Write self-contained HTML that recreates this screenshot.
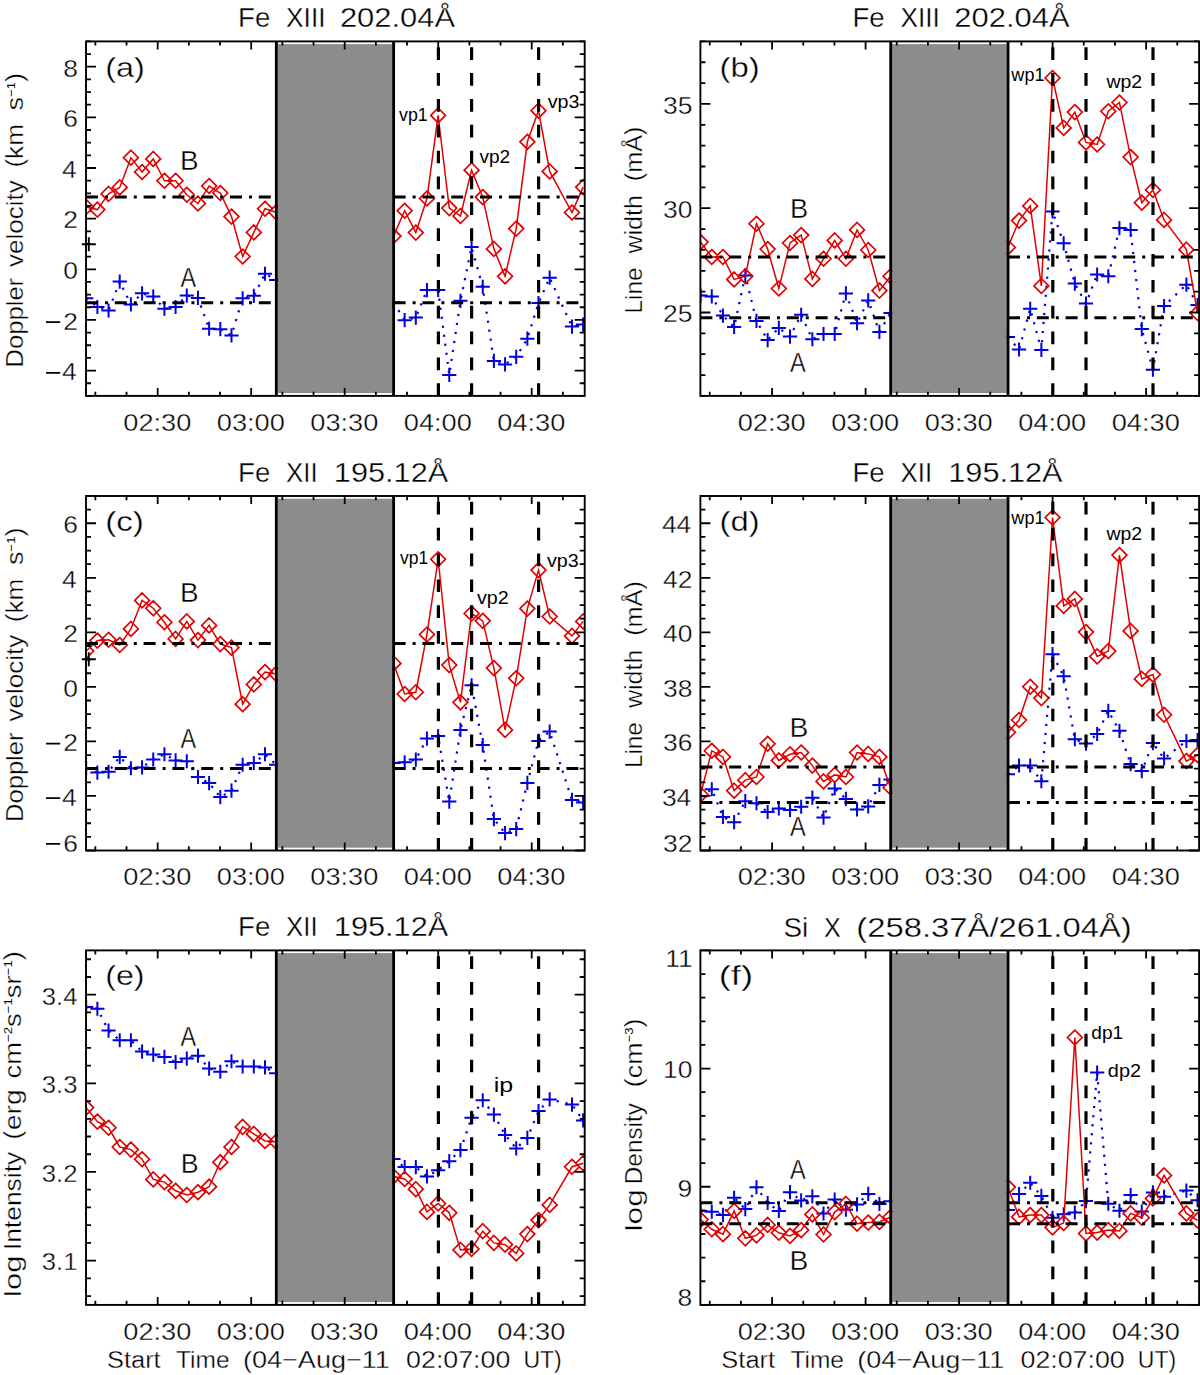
<!DOCTYPE html><html><head><meta charset="utf-8"><style>html,body{margin:0;padding:0;background:#fff;overflow:hidden}svg{display:block}text{fill:#000}text.e{stroke:#fff;stroke-width:0.35px}</style></head><body><svg width="1200" height="1375" viewBox="0 0 1200 1375" font-family="Liberation Sans, sans-serif">
<rect width="1200" height="1375" fill="#fff"/>
<defs>
<clipPath id="cpa"><rect x="86" y="41.4" width="498.7" height="354.5"/></clipPath>
<clipPath id="cpb"><rect x="700.4" y="41.4" width="498.7" height="354.5"/></clipPath>
<clipPath id="cpc"><rect x="86" y="496" width="498.7" height="354.5"/></clipPath>
<clipPath id="cpd"><rect x="700.4" y="496" width="498.7" height="354.5"/></clipPath>
<clipPath id="cpe"><rect x="86" y="950.4" width="498.7" height="354.5"/></clipPath>
<clipPath id="cpf"><rect x="700.4" y="950.4" width="498.7" height="354.5"/></clipPath>
</defs>
<g clip-path="url(#cpa)">
<path d="M86.2 298.25 L97.38 307 L108.55 310.5 L119.73 281.6 L130.9 304.4 L142.07 293.35 L153.25 296.5 L164.43 308.75 L175.6 307 L186.78 295.6 L197.95 297.9 L209.12 328.75 L220.3 329.2 L231.48 335.4 L242.65 298.3 L253.82 295.8 L265 273.75 L276.18 280" fill="none" stroke="#0000e0" stroke-width="2.2" stroke-dasharray="2.2 6.9"/>
<path d="M79.1 298.25H93.3M86.2 291.15V305.35M90.28 307H104.47M97.38 299.9V314.1M101.45 310.5H115.65M108.55 303.4V317.6M112.63 281.6H126.83M119.73 274.5V288.7M123.8 304.4H138M130.9 297.3V311.5M134.97 293.35H149.17M142.07 286.25V300.45M146.15 296.5H160.35M153.25 289.4V303.6M157.33 308.75H171.53M164.43 301.65V315.85M168.5 307H182.7M175.6 299.9V314.1M179.68 295.6H193.88M186.78 288.5V302.7M190.85 297.9H205.05M197.95 290.8V305M202.03 328.75H216.22M209.12 321.65V335.85M213.2 329.2H227.4M220.3 322.1V336.3M224.38 335.4H238.58M231.48 328.3V342.5M235.55 298.3H249.75M242.65 291.2V305.4M246.72 295.8H260.93M253.82 288.7V302.9M257.9 273.75H272.1M265 266.65V280.85M269.07 280H283.28M276.18 272.9V287.1" fill="none" stroke="#0000e0" stroke-width="2"/>
<path d="M86.2 207 L97.38 209.6 L108.55 193.9 L119.73 187.4 L130.9 157.65 L142.07 172 L153.25 158.9 L164.43 180.75 L175.6 180.75 L186.78 194.75 L197.95 203.5 L209.12 186 L220.3 193 L231.48 216.6 L242.65 256.5 L253.82 232.4 L265 208.75 L276.18 212.25" fill="none" stroke="#e00000" stroke-width="1.5"/>
<path d="M86.2 199.6L93.6 207L86.2 214.4L78.8 207ZM97.38 202.2L104.78 209.6L97.38 217L89.97 209.6ZM108.55 186.5L115.95 193.9L108.55 201.3L101.15 193.9ZM119.73 180L127.13 187.4L119.73 194.8L112.33 187.4ZM130.9 150.25L138.3 157.65L130.9 165.05L123.5 157.65ZM142.07 164.6L149.47 172L142.07 179.4L134.67 172ZM153.25 151.5L160.65 158.9L153.25 166.3L145.85 158.9ZM164.43 173.35L171.83 180.75L164.43 188.15L157.03 180.75ZM175.6 173.35L183 180.75L175.6 188.15L168.2 180.75ZM186.78 187.35L194.18 194.75L186.78 202.15L179.38 194.75ZM197.95 196.1L205.35 203.5L197.95 210.9L190.55 203.5ZM209.12 178.6L216.53 186L209.12 193.4L201.72 186ZM220.3 185.6L227.7 193L220.3 200.4L212.9 193ZM231.48 209.2L238.88 216.6L231.48 224L224.08 216.6ZM242.65 249.1L250.05 256.5L242.65 263.9L235.25 256.5ZM253.82 225L261.22 232.4L253.82 239.8L246.42 232.4ZM265 201.35L272.4 208.75L265 216.15L257.6 208.75ZM276.18 204.85L283.57 212.25L276.18 219.65L268.78 212.25Z" fill="none" stroke="#e00000" stroke-width="1.7"/>
<path d="M393.5 302.5 L404.65 320.2 L415.81 317.6 L426.96 290.1 L438.12 290 L449.27 374.9 L460.43 300.85 L471.58 247.1 L482.74 286.85 L493.89 360.9 L505.05 364.4 L516.21 356.85 L527.36 338.65 L538.51 303.1 L549.67 277.7 L571.98 326.6 L583.13 324.6" fill="none" stroke="#0000e0" stroke-width="2.2" stroke-dasharray="2.2 6.9"/>
<path d="M386.4 302.5H400.6M393.5 295.4V309.6M397.55 320.2H411.75M404.65 313.1V327.3M408.71 317.6H422.91M415.81 310.5V324.7M419.86 290.1H434.06M426.96 283V297.2M431.02 290H445.22M438.12 282.9V297.1M442.17 374.9H456.38M449.27 367.8V382M453.33 300.85H467.53M460.43 293.75V307.95M464.48 247.1H478.69M471.58 240V254.2M475.64 286.85H489.84M482.74 279.75V293.95M486.79 360.9H501M493.89 353.8V368M497.95 364.4H512.15M505.05 357.3V371.5M509.11 356.85H523.31M516.21 349.75V363.95M520.26 338.65H534.46M527.36 331.55V345.75M531.41 303.1H545.62M538.51 296V310.2M542.57 277.7H556.77M549.67 270.6V284.8M564.88 326.6H579.08M571.98 319.5V333.7M576.03 324.6H590.24M583.13 317.5V331.7" fill="none" stroke="#0000e0" stroke-width="2"/>
<path d="M393.5 236.1 L404.65 210.75 L415.81 232.6 L426.96 198.5 L438.12 115.4 L449.27 208.1 L460.43 216 L471.58 170.15 L482.74 197.1 L493.89 248.9 L505.05 276.35 L516.21 228.6 L527.36 141.8 L538.51 110.65 L549.67 171.4 L571.98 212.5 L583.13 187.1" fill="none" stroke="#e00000" stroke-width="1.5"/>
<path d="M393.5 228.7L400.9 236.1L393.5 243.5L386.1 236.1ZM404.65 203.35L412.05 210.75L404.65 218.15L397.25 210.75ZM415.81 225.2L423.21 232.6L415.81 240L408.41 232.6ZM426.96 191.1L434.36 198.5L426.96 205.9L419.56 198.5ZM438.12 108L445.52 115.4L438.12 122.8L430.72 115.4ZM449.27 200.7L456.67 208.1L449.27 215.5L441.88 208.1ZM460.43 208.6L467.83 216L460.43 223.4L453.03 216ZM471.58 162.75L478.98 170.15L471.58 177.55L464.19 170.15ZM482.74 189.7L490.14 197.1L482.74 204.5L475.34 197.1ZM493.89 241.5L501.29 248.9L493.89 256.3L486.5 248.9ZM505.05 268.95L512.45 276.35L505.05 283.75L497.65 276.35ZM516.21 221.2L523.61 228.6L516.21 236L508.81 228.6ZM527.36 134.4L534.76 141.8L527.36 149.2L519.96 141.8ZM538.51 103.25L545.91 110.65L538.51 118.05L531.12 110.65ZM549.67 164L557.07 171.4L549.67 178.8L542.27 171.4ZM571.98 205.1L579.38 212.5L571.98 219.9L564.58 212.5ZM583.13 179.7L590.53 187.1L583.13 194.5L575.74 187.1Z" fill="none" stroke="#e00000" stroke-width="1.7"/>
<line x1="86" y1="197" x2="276.35" y2="197" stroke="#000" stroke-width="3" stroke-dasharray="12 7 3 6.8"/>
<line x1="393.6" y1="197" x2="584.7" y2="197" stroke="#000" stroke-width="3" stroke-dasharray="12 7 3 6.8"/>
<line x1="86" y1="302.8" x2="276.35" y2="302.8" stroke="#000" stroke-width="3" stroke-dasharray="12 7 3 6.8"/>
<line x1="393.6" y1="302.8" x2="584.7" y2="302.8" stroke="#000" stroke-width="3" stroke-dasharray="12 7 3 6.8"/>
<line x1="438.4" y1="41.4" x2="438.4" y2="395.9" stroke="#000" stroke-width="3.2" stroke-dasharray="12.7 13.15" stroke-dashoffset="20"/>
<line x1="471.6" y1="41.4" x2="471.6" y2="395.9" stroke="#000" stroke-width="3.2" stroke-dasharray="12.7 13.15" stroke-dashoffset="20"/>
<line x1="538.6" y1="41.4" x2="538.6" y2="395.9" stroke="#000" stroke-width="3.2" stroke-dasharray="12.7 13.15" stroke-dashoffset="20"/>
<rect x="277.8" y="44.1" width="114.4" height="349" fill="#8c8c8c"/>
<line x1="276.35" y1="41.4" x2="276.35" y2="395.9" stroke="#000" stroke-width="2.9"/>
<line x1="393.6" y1="41.4" x2="393.6" y2="395.9" stroke="#000" stroke-width="2.9"/>
</g>
<rect x="86" y="41.4" width="498.7" height="354.5" fill="none" stroke="#000" stroke-width="1.9"/>
<path d="M95.35 395.9V391.7M95.35 41.4V45.6M126.52 395.9V391.7M126.52 41.4V45.6M157.69 395.9V387.9M157.69 41.4V49.4M188.86 395.9V391.7M188.86 41.4V45.6M220.03 395.9V391.7M220.03 41.4V45.6M251.19 395.9V387.9M251.19 41.4V49.4M282.36 395.9V391.7M282.36 41.4V45.6M313.53 395.9V391.7M313.53 41.4V45.6M344.7 395.9V387.9M344.7 41.4V49.4M375.87 395.9V391.7M375.87 41.4V45.6M407.04 395.9V391.7M407.04 41.4V45.6M438.21 395.9V387.9M438.21 41.4V49.4M469.38 395.9V391.7M469.38 41.4V45.6M500.54 395.9V391.7M500.54 41.4V45.6M531.71 395.9V387.9M531.71 41.4V49.4M562.88 395.9V391.7M562.88 41.4V45.6M86 395.9H91M584.7 395.9H579.7M86 383.24H91M584.7 383.24H579.7M86 370.58H96M584.7 370.58H574.7M86 357.92H91M584.7 357.92H579.7M86 345.26H91M584.7 345.26H579.7M86 332.6H91M584.7 332.6H579.7M86 319.94H96M584.7 319.94H574.7M86 307.27H91M584.7 307.27H579.7M86 294.61H91M584.7 294.61H579.7M86 281.95H91M584.7 281.95H579.7M86 269.29H96M584.7 269.29H574.7M86 256.63H91M584.7 256.63H579.7M86 243.97H91M584.7 243.97H579.7M86 231.31H91M584.7 231.31H579.7M86 218.65H96M584.7 218.65H574.7M86 205.99H91M584.7 205.99H579.7M86 193.33H91M584.7 193.33H579.7M86 180.67H91M584.7 180.67H579.7M86 168.01H96M584.7 168.01H574.7M86 155.35H91M584.7 155.35H579.7M86 142.69H91M584.7 142.69H579.7M86 130.02H91M584.7 130.02H579.7M86 117.36H96M584.7 117.36H574.7M86 104.7H91M584.7 104.7H579.7M86 92.04H91M584.7 92.04H579.7M86 79.38H91M584.7 79.38H579.7M86 66.72H96M584.7 66.72H574.7M86 54.06H91M584.7 54.06H579.7M86 41.4H91M584.7 41.4H579.7" fill="none" stroke="#000" stroke-width="1.8"/>
<g clip-path="url(#cpb)">
<path d="M700.6 295.5 L711.77 296.4 L722.95 315.6 L734.12 327 L745.3 275.4 L756.47 320.9 L767.65 340.1 L778.83 327.9 L790 336.6 L801.17 314.75 L812.35 339.25 L823.52 334 L834.7 334 L845.88 293.4 L857.05 323.15 L868.22 300.4 L879.4 331.9 L890.58 313" fill="none" stroke="#0000e0" stroke-width="2.2" stroke-dasharray="2.2 6.9"/>
<path d="M693.5 295.5H707.7M700.6 288.4V302.6M704.67 296.4H718.88M711.77 289.3V303.5M715.85 315.6H730.05M722.95 308.5V322.7M727.02 327H741.23M734.12 319.9V334.1M738.2 275.4H752.4M745.3 268.3V282.5M749.37 320.9H763.57M756.47 313.8V328M760.55 340.1H774.75M767.65 333V347.2M771.73 327.9H785.93M778.83 320.8V335M782.9 336.6H797.1M790 329.5V343.7M794.07 314.75H808.27M801.17 307.65V321.85M805.25 339.25H819.45M812.35 332.15V346.35M816.42 334H830.62M823.52 326.9V341.1M827.6 334H841.8M834.7 326.9V341.1M838.77 293.4H852.98M845.88 286.3V300.5M849.95 323.15H864.15M857.05 316.05V330.25M861.12 300.4H875.32M868.22 293.3V307.5M872.3 331.9H886.5M879.4 324.8V339M883.48 313H897.68M890.58 305.9V320.1" fill="none" stroke="#0000e0" stroke-width="2"/>
<path d="M700.6 242.1 L711.77 257 L722.95 257 L734.12 279.4 L745.3 276.25 L756.47 223.75 L767.65 249.1 L778.83 288.5 L790 243 L801.17 235.1 L812.35 278.9 L823.52 258.75 L834.7 240.4 L845.88 258.75 L857.05 229.9 L868.22 250 L879.4 290.6 L890.58 276.25" fill="none" stroke="#e00000" stroke-width="1.5"/>
<path d="M700.6 234.7L708 242.1L700.6 249.5L693.2 242.1ZM711.77 249.6L719.17 257L711.77 264.4L704.38 257ZM722.95 249.6L730.35 257L722.95 264.4L715.55 257ZM734.12 272L741.52 279.4L734.12 286.8L726.73 279.4ZM745.3 268.85L752.7 276.25L745.3 283.65L737.9 276.25ZM756.47 216.35L763.87 223.75L756.47 231.15L749.07 223.75ZM767.65 241.7L775.05 249.1L767.65 256.5L760.25 249.1ZM778.83 281.1L786.23 288.5L778.83 295.9L771.43 288.5ZM790 235.6L797.4 243L790 250.4L782.6 243ZM801.17 227.7L808.57 235.1L801.17 242.5L793.77 235.1ZM812.35 271.5L819.75 278.9L812.35 286.3L804.95 278.9ZM823.52 251.35L830.92 258.75L823.52 266.15L816.12 258.75ZM834.7 233L842.1 240.4L834.7 247.8L827.3 240.4ZM845.88 251.35L853.27 258.75L845.88 266.15L838.48 258.75ZM857.05 222.5L864.45 229.9L857.05 237.3L849.65 229.9ZM868.22 242.6L875.62 250L868.22 257.4L860.82 250ZM879.4 283.2L886.8 290.6L879.4 298L872 290.6ZM890.58 268.85L897.98 276.25L890.58 283.65L883.18 276.25Z" fill="none" stroke="#e00000" stroke-width="1.7"/>
<path d="M1007.9 337 L1019.05 349.5 L1030.21 308.8 L1041.37 349.9 L1052.52 211.5 L1063.67 243.35 L1074.83 283.6 L1085.98 303.6 L1097.14 274.5 L1108.3 276.25 L1119.45 228.1 L1130.61 229.9 L1141.76 329.1 L1152.91 369.7 L1164.07 306 L1186.38 284.65 L1197.53 305" fill="none" stroke="#0000e0" stroke-width="2.2" stroke-dasharray="2.2 6.9"/>
<path d="M1000.8 337H1015M1007.9 329.9V344.1M1011.95 349.5H1026.15M1019.05 342.4V356.6M1023.11 308.8H1037.31M1030.21 301.7V315.9M1034.27 349.9H1048.46M1041.37 342.8V357M1045.42 211.5H1059.62M1052.52 204.4V218.6M1056.58 243.35H1070.77M1063.67 236.25V250.45M1067.73 283.6H1081.93M1074.83 276.5V290.7M1078.88 303.6H1093.08M1085.98 296.5V310.7M1090.04 274.5H1104.24M1097.14 267.4V281.6M1101.2 276.25H1115.39M1108.3 269.15V283.35M1112.35 228.1H1126.55M1119.45 221V235.2M1123.51 229.9H1137.7M1130.61 222.8V237M1134.66 329.1H1148.86M1141.76 322V336.2M1145.82 369.7H1160.01M1152.91 362.6V376.8M1156.97 306H1171.17M1164.07 298.9V313.1M1179.28 284.65H1193.48M1186.38 277.55V291.75M1190.43 305H1204.63M1197.53 297.9V312.1" fill="none" stroke="#0000e0" stroke-width="2"/>
<path d="M1007.9 247.4 L1019.05 220.6 L1030.21 205.9 L1041.37 285.9 L1052.52 78 L1063.67 127.9 L1074.83 112.1 L1085.98 142.4 L1097.14 144.5 L1108.3 111.25 L1119.45 102.5 L1130.61 157.1 L1141.76 202.7 L1152.91 190 L1164.07 219.9 L1186.38 249.65 L1197.53 313" fill="none" stroke="#e00000" stroke-width="1.5"/>
<path d="M1007.9 240L1015.3 247.4L1007.9 254.8L1000.5 247.4ZM1019.05 213.2L1026.45 220.6L1019.05 228L1011.65 220.6ZM1030.21 198.5L1037.61 205.9L1030.21 213.3L1022.81 205.9ZM1041.37 278.5L1048.77 285.9L1041.37 293.3L1033.96 285.9ZM1052.52 70.6L1059.92 78L1052.52 85.4L1045.12 78ZM1063.67 120.5L1071.08 127.9L1063.67 135.3L1056.27 127.9ZM1074.83 104.7L1082.23 112.1L1074.83 119.5L1067.43 112.1ZM1085.98 135L1093.38 142.4L1085.98 149.8L1078.58 142.4ZM1097.14 137.1L1104.54 144.5L1097.14 151.9L1089.74 144.5ZM1108.3 103.85L1115.7 111.25L1108.3 118.65L1100.89 111.25ZM1119.45 95.1L1126.85 102.5L1119.45 109.9L1112.05 102.5ZM1130.61 149.7L1138.01 157.1L1130.61 164.5L1123.2 157.1ZM1141.76 195.3L1149.16 202.7L1141.76 210.1L1134.36 202.7ZM1152.91 182.6L1160.32 190L1152.91 197.4L1145.51 190ZM1164.07 212.5L1171.47 219.9L1164.07 227.3L1156.67 219.9ZM1186.38 242.25L1193.78 249.65L1186.38 257.05L1178.98 249.65ZM1197.53 305.6L1204.93 313L1197.53 320.4L1190.13 313Z" fill="none" stroke="#e00000" stroke-width="1.7"/>
<line x1="700.4" y1="257" x2="890.75" y2="257" stroke="#000" stroke-width="3" stroke-dasharray="12 7 3 6.8"/>
<line x1="1008" y1="257" x2="1199.1" y2="257" stroke="#000" stroke-width="3" stroke-dasharray="12 7 3 6.8"/>
<line x1="700.4" y1="317.8" x2="890.75" y2="317.8" stroke="#000" stroke-width="3" stroke-dasharray="12 7 3 6.8"/>
<line x1="1008" y1="317.8" x2="1199.1" y2="317.8" stroke="#000" stroke-width="3" stroke-dasharray="12 7 3 6.8"/>
<line x1="1052.8" y1="41.4" x2="1052.8" y2="395.9" stroke="#000" stroke-width="3.2" stroke-dasharray="12.7 13.15" stroke-dashoffset="20"/>
<line x1="1086" y1="41.4" x2="1086" y2="395.9" stroke="#000" stroke-width="3.2" stroke-dasharray="12.7 13.15" stroke-dashoffset="20"/>
<line x1="1153" y1="41.4" x2="1153" y2="395.9" stroke="#000" stroke-width="3.2" stroke-dasharray="12.7 13.15" stroke-dashoffset="20"/>
<rect x="892.2" y="44.1" width="114.4" height="349" fill="#8c8c8c"/>
<line x1="890.75" y1="41.4" x2="890.75" y2="395.9" stroke="#000" stroke-width="2.9"/>
<line x1="1008" y1="41.4" x2="1008" y2="395.9" stroke="#000" stroke-width="2.9"/>
</g>
<rect x="700.4" y="41.4" width="498.7" height="354.5" fill="none" stroke="#000" stroke-width="1.9"/>
<path d="M709.75 395.9V391.7M709.75 41.4V45.6M740.92 395.9V391.7M740.92 41.4V45.6M772.09 395.9V387.9M772.09 41.4V49.4M803.26 395.9V391.7M803.26 41.4V45.6M834.43 395.9V391.7M834.43 41.4V45.6M865.59 395.9V387.9M865.59 41.4V49.4M896.76 395.9V391.7M896.76 41.4V45.6M927.93 395.9V391.7M927.93 41.4V45.6M959.1 395.9V387.9M959.1 41.4V49.4M990.27 395.9V391.7M990.27 41.4V45.6M1021.44 395.9V391.7M1021.44 41.4V45.6M1052.61 395.9V387.9M1052.61 41.4V49.4M1083.78 395.9V391.7M1083.78 41.4V45.6M1114.94 395.9V391.7M1114.94 41.4V45.6M1146.11 395.9V387.9M1146.11 41.4V49.4M1177.28 395.9V391.7M1177.28 41.4V45.6M700.4 395.9H705.4M1199.1 395.9H1194.1M700.4 375.05H705.4M1199.1 375.05H1194.1M700.4 354.19H705.4M1199.1 354.19H1194.1M700.4 333.34H705.4M1199.1 333.34H1194.1M700.4 312.49H710.4M1199.1 312.49H1189.1M700.4 291.64H705.4M1199.1 291.64H1194.1M700.4 270.78H705.4M1199.1 270.78H1194.1M700.4 249.93H705.4M1199.1 249.93H1194.1M700.4 229.08H705.4M1199.1 229.08H1194.1M700.4 208.22H710.4M1199.1 208.22H1189.1M700.4 187.37H705.4M1199.1 187.37H1194.1M700.4 166.52H705.4M1199.1 166.52H1194.1M700.4 145.66H705.4M1199.1 145.66H1194.1M700.4 124.81H705.4M1199.1 124.81H1194.1M700.4 103.96H710.4M1199.1 103.96H1189.1M700.4 83.11H705.4M1199.1 83.11H1194.1M700.4 62.25H705.4M1199.1 62.25H1194.1M700.4 41.4H705.4M1199.1 41.4H1194.1" fill="none" stroke="#000" stroke-width="1.8"/>
<g clip-path="url(#cpc)">
<path d="M86.2 768.25 L97.38 772.6 L108.55 771.75 L119.73 756.9 L130.9 768.25 L142.07 767.4 L153.25 759.5 L164.43 754.25 L175.6 760.4 L186.78 761.25 L197.95 777 L209.12 783.1 L220.3 797.1 L231.48 790.65 L242.65 764.75 L253.82 763 L265 754.25 L276.18 764.75" fill="none" stroke="#0000e0" stroke-width="2.2" stroke-dasharray="2.2 6.9"/>
<path d="M79.1 768.25H93.3M86.2 761.15V775.35M90.28 772.6H104.47M97.38 765.5V779.7M101.45 771.75H115.65M108.55 764.65V778.85M112.63 756.9H126.83M119.73 749.8V764M123.8 768.25H138M130.9 761.15V775.35M134.97 767.4H149.17M142.07 760.3V774.5M146.15 759.5H160.35M153.25 752.4V766.6M157.33 754.25H171.53M164.43 747.15V761.35M168.5 760.4H182.7M175.6 753.3V767.5M179.68 761.25H193.88M186.78 754.15V768.35M190.85 777H205.05M197.95 769.9V784.1M202.03 783.1H216.22M209.12 776V790.2M213.2 797.1H227.4M220.3 790V804.2M224.38 790.65H238.58M231.48 783.55V797.75M235.55 764.75H249.75M242.65 757.65V771.85M246.72 763H260.93M253.82 755.9V770.1M257.9 754.25H272.1M265 747.15V761.35M269.07 764.75H283.28M276.18 757.65V771.85" fill="none" stroke="#0000e0" stroke-width="2"/>
<path d="M86.2 651 L97.38 640.6 L108.55 639.75 L119.73 645 L130.9 628.9 L142.07 600.4 L153.25 608.25 L164.43 622.25 L175.6 638.9 L186.78 621.4 L197.95 640.1 L209.12 625.4 L220.3 644.1 L231.48 647.6 L242.65 704.15 L253.82 684.4 L265 672.1 L276.18 673.9" fill="none" stroke="#e00000" stroke-width="1.5"/>
<path d="M86.2 643.6L93.6 651L86.2 658.4L78.8 651ZM97.38 633.2L104.78 640.6L97.38 648L89.97 640.6ZM108.55 632.35L115.95 639.75L108.55 647.15L101.15 639.75ZM119.73 637.6L127.13 645L119.73 652.4L112.33 645ZM130.9 621.5L138.3 628.9L130.9 636.3L123.5 628.9ZM142.07 593L149.47 600.4L142.07 607.8L134.67 600.4ZM153.25 600.85L160.65 608.25L153.25 615.65L145.85 608.25ZM164.43 614.85L171.83 622.25L164.43 629.65L157.03 622.25ZM175.6 631.5L183 638.9L175.6 646.3L168.2 638.9ZM186.78 614L194.18 621.4L186.78 628.8L179.38 621.4ZM197.95 632.7L205.35 640.1L197.95 647.5L190.55 640.1ZM209.12 618L216.53 625.4L209.12 632.8L201.72 625.4ZM220.3 636.7L227.7 644.1L220.3 651.5L212.9 644.1ZM231.48 640.2L238.88 647.6L231.48 655L224.08 647.6ZM242.65 696.75L250.05 704.15L242.65 711.55L235.25 704.15ZM253.82 677L261.22 684.4L253.82 691.8L246.42 684.4ZM265 664.7L272.4 672.1L265 679.5L257.6 672.1ZM276.18 666.5L283.57 673.9L276.18 681.3L268.78 673.9Z" fill="none" stroke="#e00000" stroke-width="1.7"/>
<path d="M393.5 763 L404.65 762.25 L415.81 759.6 L426.96 738.6 L438.12 736 L449.27 801.6 L460.43 729.9 L471.58 685.25 L482.74 745.1 L493.89 819.1 L505.05 833.1 L516.21 829.1 L527.36 782.9 L538.51 740.9 L549.67 731.6 L571.98 799.9 L583.13 802.5" fill="none" stroke="#0000e0" stroke-width="2.2" stroke-dasharray="2.2 6.9"/>
<path d="M386.4 763H400.6M393.5 755.9V770.1M397.55 762.25H411.75M404.65 755.15V769.35M408.71 759.6H422.91M415.81 752.5V766.7M419.86 738.6H434.06M426.96 731.5V745.7M431.02 736H445.22M438.12 728.9V743.1M442.17 801.6H456.38M449.27 794.5V808.7M453.33 729.9H467.53M460.43 722.8V737M464.48 685.25H478.69M471.58 678.15V692.35M475.64 745.1H489.84M482.74 738V752.2M486.79 819.1H501M493.89 812V826.2M497.95 833.1H512.15M505.05 826V840.2M509.11 829.1H523.31M516.21 822V836.2M520.26 782.9H534.46M527.36 775.8V790M531.41 740.9H545.62M538.51 733.8V748M542.57 731.6H556.77M549.67 724.5V738.7M564.88 799.9H579.08M571.98 792.8V807M576.03 802.5H590.24M583.13 795.4V809.6" fill="none" stroke="#0000e0" stroke-width="2"/>
<path d="M393.5 663.4 L404.65 694 L415.81 692.25 L426.96 634.5 L438.12 559.25 L449.27 665.1 L460.43 702.3 L471.58 613.5 L482.74 620.85 L493.89 668.1 L505.05 729.9 L516.21 678.25 L527.36 608.6 L538.51 570.1 L549.67 616.5 L571.98 635.9 L583.13 621.4" fill="none" stroke="#e00000" stroke-width="1.5"/>
<path d="M393.5 656L400.9 663.4L393.5 670.8L386.1 663.4ZM404.65 686.6L412.05 694L404.65 701.4L397.25 694ZM415.81 684.85L423.21 692.25L415.81 699.65L408.41 692.25ZM426.96 627.1L434.36 634.5L426.96 641.9L419.56 634.5ZM438.12 551.85L445.52 559.25L438.12 566.65L430.72 559.25ZM449.27 657.7L456.67 665.1L449.27 672.5L441.88 665.1ZM460.43 694.9L467.83 702.3L460.43 709.7L453.03 702.3ZM471.58 606.1L478.98 613.5L471.58 620.9L464.19 613.5ZM482.74 613.45L490.14 620.85L482.74 628.25L475.34 620.85ZM493.89 660.7L501.29 668.1L493.89 675.5L486.5 668.1ZM505.05 722.5L512.45 729.9L505.05 737.3L497.65 729.9ZM516.21 670.85L523.61 678.25L516.21 685.65L508.81 678.25ZM527.36 601.2L534.76 608.6L527.36 616L519.96 608.6ZM538.51 562.7L545.91 570.1L538.51 577.5L531.12 570.1ZM549.67 609.1L557.07 616.5L549.67 623.9L542.27 616.5ZM571.98 628.5L579.38 635.9L571.98 643.3L564.58 635.9ZM583.13 614L590.53 621.4L583.13 628.8L575.74 621.4Z" fill="none" stroke="#e00000" stroke-width="1.7"/>
<line x1="86" y1="643.6" x2="276.35" y2="643.6" stroke="#000" stroke-width="3" stroke-dasharray="12 7 3 6.8"/>
<line x1="393.6" y1="643.6" x2="584.7" y2="643.6" stroke="#000" stroke-width="3" stroke-dasharray="12 7 3 6.8"/>
<line x1="86" y1="768.5" x2="276.35" y2="768.5" stroke="#000" stroke-width="3" stroke-dasharray="12 7 3 6.8"/>
<line x1="393.6" y1="768.5" x2="584.7" y2="768.5" stroke="#000" stroke-width="3" stroke-dasharray="12 7 3 6.8"/>
<line x1="438.4" y1="496" x2="438.4" y2="850.5" stroke="#000" stroke-width="3.2" stroke-dasharray="12.7 13.15" stroke-dashoffset="20"/>
<line x1="471.6" y1="496" x2="471.6" y2="850.5" stroke="#000" stroke-width="3.2" stroke-dasharray="12.7 13.15" stroke-dashoffset="20"/>
<line x1="538.6" y1="496" x2="538.6" y2="850.5" stroke="#000" stroke-width="3.2" stroke-dasharray="12.7 13.15" stroke-dashoffset="20"/>
<rect x="277.8" y="498.7" width="114.4" height="349" fill="#8c8c8c"/>
<line x1="276.35" y1="496" x2="276.35" y2="850.5" stroke="#000" stroke-width="2.9"/>
<line x1="393.6" y1="496" x2="393.6" y2="850.5" stroke="#000" stroke-width="2.9"/>
</g>
<rect x="86" y="496" width="498.7" height="354.5" fill="none" stroke="#000" stroke-width="1.9"/>
<path d="M95.35 850.5V846.3M95.35 496V500.2M126.52 850.5V846.3M126.52 496V500.2M157.69 850.5V842.5M157.69 496V504M188.86 850.5V846.3M188.86 496V500.2M220.03 850.5V846.3M220.03 496V500.2M251.19 850.5V842.5M251.19 496V504M282.36 850.5V846.3M282.36 496V500.2M313.53 850.5V846.3M313.53 496V500.2M344.7 850.5V842.5M344.7 496V504M375.87 850.5V846.3M375.87 496V500.2M407.04 850.5V846.3M407.04 496V500.2M438.21 850.5V842.5M438.21 496V504M469.38 850.5V846.3M469.38 496V500.2M500.54 850.5V846.3M500.54 496V500.2M531.71 850.5V842.5M531.71 496V504M562.88 850.5V846.3M562.88 496V500.2M86 850.5H96M584.7 850.5H574.7M86 836.87H91M584.7 836.87H579.7M86 823.23H91M584.7 823.23H579.7M86 809.6H91M584.7 809.6H579.7M86 795.96H96M584.7 795.96H574.7M86 782.33H91M584.7 782.33H579.7M86 768.69H91M584.7 768.69H579.7M86 755.06H91M584.7 755.06H579.7M86 741.42H96M584.7 741.42H574.7M86 727.79H91M584.7 727.79H579.7M86 714.15H91M584.7 714.15H579.7M86 700.52H91M584.7 700.52H579.7M86 686.88H96M584.7 686.88H574.7M86 673.25H91M584.7 673.25H579.7M86 659.62H91M584.7 659.62H579.7M86 645.98H91M584.7 645.98H579.7M86 632.35H96M584.7 632.35H574.7M86 618.71H91M584.7 618.71H579.7M86 605.08H91M584.7 605.08H579.7M86 591.44H91M584.7 591.44H579.7M86 577.81H96M584.7 577.81H574.7M86 564.17H91M584.7 564.17H579.7M86 550.54H91M584.7 550.54H579.7M86 536.9H91M584.7 536.9H579.7M86 523.27H96M584.7 523.27H574.7M86 509.63H91M584.7 509.63H579.7M86 496H91M584.7 496H579.7" fill="none" stroke="#000" stroke-width="1.8"/>
<g clip-path="url(#cpd)">
<path d="M700.6 796.25 L711.77 789.25 L722.95 816.9 L734.12 822.15 L745.3 801.15 L756.47 803.25 L767.65 812 L778.83 808.5 L790 809.9 L801.17 806.75 L812.35 797.65 L823.52 817.6 L834.7 788.4 L845.88 798.9 L857.05 809.4 L868.22 806.4 L879.4 784.9 L890.58 779.6" fill="none" stroke="#0000e0" stroke-width="2.2" stroke-dasharray="2.2 6.9"/>
<path d="M693.5 796.25H707.7M700.6 789.15V803.35M704.67 789.25H718.88M711.77 782.15V796.35M715.85 816.9H730.05M722.95 809.8V824M727.02 822.15H741.23M734.12 815.05V829.25M738.2 801.15H752.4M745.3 794.05V808.25M749.37 803.25H763.57M756.47 796.15V810.35M760.55 812H774.75M767.65 804.9V819.1M771.73 808.5H785.93M778.83 801.4V815.6M782.9 809.9H797.1M790 802.8V817M794.07 806.75H808.27M801.17 799.65V813.85M805.25 797.65H819.45M812.35 790.55V804.75M816.42 817.6H830.62M823.52 810.5V824.7M827.6 788.4H841.8M834.7 781.3V795.5M838.77 798.9H852.98M845.88 791.8V806M849.95 809.4H864.15M857.05 802.3V816.5M861.12 806.4H875.32M868.22 799.3V813.5M872.3 784.9H886.5M879.4 777.8V792M883.48 779.6H897.68M890.58 772.5V786.7" fill="none" stroke="#0000e0" stroke-width="2"/>
<path d="M700.6 794.5 L711.77 750.75 L722.95 756.9 L734.12 790.65 L745.3 780.15 L756.47 777 L767.65 743.75 L778.83 760.4 L790 754.25 L801.17 752.5 L812.35 765.6 L823.52 781.4 L834.7 774.9 L845.88 777 L857.05 752.5 L868.22 753.9 L879.4 756.9 L890.58 787.5" fill="none" stroke="#e00000" stroke-width="1.5"/>
<path d="M700.6 787.1L708 794.5L700.6 801.9L693.2 794.5ZM711.77 743.35L719.17 750.75L711.77 758.15L704.38 750.75ZM722.95 749.5L730.35 756.9L722.95 764.3L715.55 756.9ZM734.12 783.25L741.52 790.65L734.12 798.05L726.73 790.65ZM745.3 772.75L752.7 780.15L745.3 787.55L737.9 780.15ZM756.47 769.6L763.87 777L756.47 784.4L749.07 777ZM767.65 736.35L775.05 743.75L767.65 751.15L760.25 743.75ZM778.83 753L786.23 760.4L778.83 767.8L771.43 760.4ZM790 746.85L797.4 754.25L790 761.65L782.6 754.25ZM801.17 745.1L808.57 752.5L801.17 759.9L793.77 752.5ZM812.35 758.2L819.75 765.6L812.35 773L804.95 765.6ZM823.52 774L830.92 781.4L823.52 788.8L816.12 781.4ZM834.7 767.5L842.1 774.9L834.7 782.3L827.3 774.9ZM845.88 769.6L853.27 777L845.88 784.4L838.48 777ZM857.05 745.1L864.45 752.5L857.05 759.9L849.65 752.5ZM868.22 746.5L875.62 753.9L868.22 761.3L860.82 753.9ZM879.4 749.5L886.8 756.9L879.4 764.3L872 756.9ZM890.58 780.1L897.98 787.5L890.58 794.9L883.18 787.5Z" fill="none" stroke="#e00000" stroke-width="1.7"/>
<path d="M1007.9 774.25 L1019.05 765.5 L1030.21 765.5 L1041.37 781.25 L1052.52 654.2 L1063.67 676.25 L1074.83 739.25 L1085.98 743.6 L1097.14 734 L1108.3 710.9 L1119.45 730.85 L1130.61 764.1 L1141.76 771.1 L1152.91 743.1 L1164.07 758.5 L1186.38 741 L1197.53 740.1" fill="none" stroke="#0000e0" stroke-width="2.2" stroke-dasharray="2.2 6.9"/>
<path d="M1000.8 774.25H1015M1007.9 767.15V781.35M1011.95 765.5H1026.15M1019.05 758.4V772.6M1023.11 765.5H1037.31M1030.21 758.4V772.6M1034.27 781.25H1048.46M1041.37 774.15V788.35M1045.42 654.2H1059.62M1052.52 647.1V661.3M1056.58 676.25H1070.77M1063.67 669.15V683.35M1067.73 739.25H1081.93M1074.83 732.15V746.35M1078.88 743.6H1093.08M1085.98 736.5V750.7M1090.04 734H1104.24M1097.14 726.9V741.1M1101.2 710.9H1115.39M1108.3 703.8V718M1112.35 730.85H1126.55M1119.45 723.75V737.95M1123.51 764.1H1137.7M1130.61 757V771.2M1134.66 771.1H1148.86M1141.76 764V778.2M1145.82 743.1H1160.01M1152.91 736V750.2M1156.97 758.5H1171.17M1164.07 751.4V765.6M1179.28 741H1193.48M1186.38 733.9V748.1M1190.43 740.1H1204.63M1197.53 733V747.2" fill="none" stroke="#0000e0" stroke-width="2"/>
<path d="M1007.9 732.25 L1019.05 720 L1030.21 686.75 L1041.37 698.1 L1052.52 517.5 L1063.67 605.9 L1074.83 598.9 L1085.98 632.1 L1097.14 656.4 L1108.3 651.1 L1119.45 555.1 L1130.61 630.9 L1141.76 678.9 L1152.91 674.5 L1164.07 714.75 L1186.38 761.1 L1197.53 755" fill="none" stroke="#e00000" stroke-width="1.5"/>
<path d="M1007.9 724.85L1015.3 732.25L1007.9 739.65L1000.5 732.25ZM1019.05 712.6L1026.45 720L1019.05 727.4L1011.65 720ZM1030.21 679.35L1037.61 686.75L1030.21 694.15L1022.81 686.75ZM1041.37 690.7L1048.77 698.1L1041.37 705.5L1033.96 698.1ZM1052.52 510.1L1059.92 517.5L1052.52 524.9L1045.12 517.5ZM1063.67 598.5L1071.08 605.9L1063.67 613.3L1056.27 605.9ZM1074.83 591.5L1082.23 598.9L1074.83 606.3L1067.43 598.9ZM1085.98 624.7L1093.38 632.1L1085.98 639.5L1078.58 632.1ZM1097.14 649L1104.54 656.4L1097.14 663.8L1089.74 656.4ZM1108.3 643.7L1115.7 651.1L1108.3 658.5L1100.89 651.1ZM1119.45 547.7L1126.85 555.1L1119.45 562.5L1112.05 555.1ZM1130.61 623.5L1138.01 630.9L1130.61 638.3L1123.2 630.9ZM1141.76 671.5L1149.16 678.9L1141.76 686.3L1134.36 678.9ZM1152.91 667.1L1160.32 674.5L1152.91 681.9L1145.51 674.5ZM1164.07 707.35L1171.47 714.75L1164.07 722.15L1156.67 714.75ZM1186.38 753.7L1193.78 761.1L1186.38 768.5L1178.98 761.1ZM1197.53 747.6L1204.93 755L1197.53 762.4L1190.13 755Z" fill="none" stroke="#e00000" stroke-width="1.7"/>
<line x1="700.4" y1="767" x2="890.75" y2="767" stroke="#000" stroke-width="3" stroke-dasharray="12 7 3 6.8"/>
<line x1="1008" y1="767" x2="1199.1" y2="767" stroke="#000" stroke-width="3" stroke-dasharray="12 7 3 6.8"/>
<line x1="700.4" y1="802.5" x2="890.75" y2="802.5" stroke="#000" stroke-width="3" stroke-dasharray="12 7 3 6.8"/>
<line x1="1008" y1="802.5" x2="1199.1" y2="802.5" stroke="#000" stroke-width="3" stroke-dasharray="12 7 3 6.8"/>
<line x1="1052.8" y1="496" x2="1052.8" y2="850.5" stroke="#000" stroke-width="3.2" stroke-dasharray="12.7 13.15" stroke-dashoffset="20"/>
<line x1="1086" y1="496" x2="1086" y2="850.5" stroke="#000" stroke-width="3.2" stroke-dasharray="12.7 13.15" stroke-dashoffset="20"/>
<line x1="1153" y1="496" x2="1153" y2="850.5" stroke="#000" stroke-width="3.2" stroke-dasharray="12.7 13.15" stroke-dashoffset="20"/>
<rect x="892.2" y="498.7" width="114.4" height="349" fill="#8c8c8c"/>
<line x1="890.75" y1="496" x2="890.75" y2="850.5" stroke="#000" stroke-width="2.9"/>
<line x1="1008" y1="496" x2="1008" y2="850.5" stroke="#000" stroke-width="2.9"/>
</g>
<rect x="700.4" y="496" width="498.7" height="354.5" fill="none" stroke="#000" stroke-width="1.9"/>
<path d="M709.75 850.5V846.3M709.75 496V500.2M740.92 850.5V846.3M740.92 496V500.2M772.09 850.5V842.5M772.09 496V504M803.26 850.5V846.3M803.26 496V500.2M834.43 850.5V846.3M834.43 496V500.2M865.59 850.5V842.5M865.59 496V504M896.76 850.5V846.3M896.76 496V500.2M927.93 850.5V846.3M927.93 496V500.2M959.1 850.5V842.5M959.1 496V504M990.27 850.5V846.3M990.27 496V500.2M1021.44 850.5V846.3M1021.44 496V500.2M1052.61 850.5V842.5M1052.61 496V504M1083.78 850.5V846.3M1083.78 496V500.2M1114.94 850.5V846.3M1114.94 496V500.2M1146.11 850.5V842.5M1146.11 496V504M1177.28 850.5V846.3M1177.28 496V500.2M700.4 850.5H710.4M1199.1 850.5H1189.1M700.4 836.87H705.4M1199.1 836.87H1194.1M700.4 823.23H705.4M1199.1 823.23H1194.1M700.4 809.6H705.4M1199.1 809.6H1194.1M700.4 795.96H710.4M1199.1 795.96H1189.1M700.4 782.33H705.4M1199.1 782.33H1194.1M700.4 768.69H705.4M1199.1 768.69H1194.1M700.4 755.06H705.4M1199.1 755.06H1194.1M700.4 741.42H710.4M1199.1 741.42H1189.1M700.4 727.79H705.4M1199.1 727.79H1194.1M700.4 714.15H705.4M1199.1 714.15H1194.1M700.4 700.52H705.4M1199.1 700.52H1194.1M700.4 686.88H710.4M1199.1 686.88H1189.1M700.4 673.25H705.4M1199.1 673.25H1194.1M700.4 659.62H705.4M1199.1 659.62H1194.1M700.4 645.98H705.4M1199.1 645.98H1194.1M700.4 632.35H710.4M1199.1 632.35H1189.1M700.4 618.71H705.4M1199.1 618.71H1194.1M700.4 605.08H705.4M1199.1 605.08H1194.1M700.4 591.44H705.4M1199.1 591.44H1194.1M700.4 577.81H710.4M1199.1 577.81H1189.1M700.4 564.17H705.4M1199.1 564.17H1194.1M700.4 550.54H705.4M1199.1 550.54H1194.1M700.4 536.9H705.4M1199.1 536.9H1194.1M700.4 523.27H710.4M1199.1 523.27H1189.1M700.4 509.63H705.4M1199.1 509.63H1194.1M700.4 496H705.4M1199.1 496H1194.1" fill="none" stroke="#000" stroke-width="1.8"/>
<g clip-path="url(#cpe)">
<path d="M86.2 1007 L97.38 1008.75 L108.55 1030.6 L119.73 1040.25 L130.9 1040.25 L142.07 1051.6 L153.25 1054.6 L164.43 1056.9 L175.6 1062.1 L186.78 1058.6 L197.95 1055.65 L209.12 1068.6 L220.3 1071.75 L231.48 1061.25 L242.65 1066.5 L253.82 1066.5 L265 1067.4 L276.18 1073.15" fill="none" stroke="#0000e0" stroke-width="2.2" stroke-dasharray="2.2 6.9"/>
<path d="M79.1 1007H93.3M86.2 999.9V1014.1M90.28 1008.75H104.47M97.38 1001.65V1015.85M101.45 1030.6H115.65M108.55 1023.5V1037.7M112.63 1040.25H126.83M119.73 1033.15V1047.35M123.8 1040.25H138M130.9 1033.15V1047.35M134.97 1051.6H149.17M142.07 1044.5V1058.7M146.15 1054.6H160.35M153.25 1047.5V1061.7M157.33 1056.9H171.53M164.43 1049.8V1064M168.5 1062.1H182.7M175.6 1055V1069.2M179.68 1058.6H193.88M186.78 1051.5V1065.7M190.85 1055.65H205.05M197.95 1048.55V1062.75M202.03 1068.6H216.22M209.12 1061.5V1075.7M213.2 1071.75H227.4M220.3 1064.65V1078.85M224.38 1061.25H238.58M231.48 1054.15V1068.35M235.55 1066.5H249.75M242.65 1059.4V1073.6M246.72 1066.5H260.93M253.82 1059.4V1073.6M257.9 1067.4H272.1M265 1060.3V1074.5M269.07 1073.15H283.28M276.18 1066.05V1080.25" fill="none" stroke="#0000e0" stroke-width="2"/>
<path d="M86.2 1107.6 L97.38 1121.6 L108.55 1127.75 L119.73 1147 L130.9 1149.6 L142.07 1159.25 L153.25 1179.4 L164.43 1182.1 L175.6 1190.8 L186.78 1195 L197.95 1192.2 L209.12 1186.7 L220.3 1162.2 L231.48 1147 L242.65 1126.9 L253.82 1133.9 L265 1140.9 L276.18 1141.75" fill="none" stroke="#e00000" stroke-width="1.5"/>
<path d="M86.2 1100.2L93.6 1107.6L86.2 1115L78.8 1107.6ZM97.38 1114.2L104.78 1121.6L97.38 1129L89.97 1121.6ZM108.55 1120.35L115.95 1127.75L108.55 1135.15L101.15 1127.75ZM119.73 1139.6L127.13 1147L119.73 1154.4L112.33 1147ZM130.9 1142.2L138.3 1149.6L130.9 1157L123.5 1149.6ZM142.07 1151.85L149.47 1159.25L142.07 1166.65L134.67 1159.25ZM153.25 1172L160.65 1179.4L153.25 1186.8L145.85 1179.4ZM164.43 1174.7L171.83 1182.1L164.43 1189.5L157.03 1182.1ZM175.6 1183.4L183 1190.8L175.6 1198.2L168.2 1190.8ZM186.78 1187.6L194.18 1195L186.78 1202.4L179.38 1195ZM197.95 1184.8L205.35 1192.2L197.95 1199.6L190.55 1192.2ZM209.12 1179.3L216.53 1186.7L209.12 1194.1L201.72 1186.7ZM220.3 1154.8L227.7 1162.2L220.3 1169.6L212.9 1162.2ZM231.48 1139.6L238.88 1147L231.48 1154.4L224.08 1147ZM242.65 1119.5L250.05 1126.9L242.65 1134.3L235.25 1126.9ZM253.82 1126.5L261.22 1133.9L253.82 1141.3L246.42 1133.9ZM265 1133.5L272.4 1140.9L265 1148.3L257.6 1140.9ZM276.18 1134.35L283.57 1141.75L276.18 1149.15L268.78 1141.75Z" fill="none" stroke="#e00000" stroke-width="1.7"/>
<path d="M393.5 1158.9 L404.65 1167.1 L415.81 1167.1 L426.96 1176.4 L438.12 1170.25 L449.27 1161.15 L460.43 1150.1 L471.58 1117.75 L482.74 1100.25 L493.89 1114.6 L505.05 1134.9 L516.21 1148.4 L527.36 1137.9 L538.51 1111.1 L549.67 1099.4 L571.98 1104.6 L583.13 1120.4" fill="none" stroke="#0000e0" stroke-width="2.2" stroke-dasharray="2.2 6.9"/>
<path d="M386.4 1158.9H400.6M393.5 1151.8V1166M397.55 1167.1H411.75M404.65 1160V1174.2M408.71 1167.1H422.91M415.81 1160V1174.2M419.86 1176.4H434.06M426.96 1169.3V1183.5M431.02 1170.25H445.22M438.12 1163.15V1177.35M442.17 1161.15H456.38M449.27 1154.05V1168.25M453.33 1150.1H467.53M460.43 1143V1157.2M464.48 1117.75H478.69M471.58 1110.65V1124.85M475.64 1100.25H489.84M482.74 1093.15V1107.35M486.79 1114.6H501M493.89 1107.5V1121.7M497.95 1134.9H512.15M505.05 1127.8V1142M509.11 1148.4H523.31M516.21 1141.3V1155.5M520.26 1137.9H534.46M527.36 1130.8V1145M531.41 1111.1H545.62M538.51 1104V1118.2M542.57 1099.4H556.77M549.67 1092.3V1106.5M564.88 1104.6H579.08M571.98 1097.5V1111.7M576.03 1120.4H590.24M583.13 1113.3V1127.5" fill="none" stroke="#0000e0" stroke-width="2"/>
<path d="M393.5 1176.4 L404.65 1179 L415.81 1189.15 L426.96 1211.9 L438.12 1203.5 L449.27 1212.8 L460.43 1249.9 L471.58 1249 L482.74 1231.15 L493.89 1242.9 L505.05 1244.6 L516.21 1253.4 L527.36 1234.1 L538.51 1220.1 L549.67 1204.9 L571.98 1166.75 L583.13 1163.25" fill="none" stroke="#e00000" stroke-width="1.5"/>
<path d="M393.5 1169L400.9 1176.4L393.5 1183.8L386.1 1176.4ZM404.65 1171.6L412.05 1179L404.65 1186.4L397.25 1179ZM415.81 1181.75L423.21 1189.15L415.81 1196.55L408.41 1189.15ZM426.96 1204.5L434.36 1211.9L426.96 1219.3L419.56 1211.9ZM438.12 1196.1L445.52 1203.5L438.12 1210.9L430.72 1203.5ZM449.27 1205.4L456.67 1212.8L449.27 1220.2L441.88 1212.8ZM460.43 1242.5L467.83 1249.9L460.43 1257.3L453.03 1249.9ZM471.58 1241.6L478.98 1249L471.58 1256.4L464.19 1249ZM482.74 1223.75L490.14 1231.15L482.74 1238.55L475.34 1231.15ZM493.89 1235.5L501.29 1242.9L493.89 1250.3L486.5 1242.9ZM505.05 1237.2L512.45 1244.6L505.05 1252L497.65 1244.6ZM516.21 1246L523.61 1253.4L516.21 1260.8L508.81 1253.4ZM527.36 1226.7L534.76 1234.1L527.36 1241.5L519.96 1234.1ZM538.51 1212.7L545.91 1220.1L538.51 1227.5L531.12 1220.1ZM549.67 1197.5L557.07 1204.9L549.67 1212.3L542.27 1204.9ZM571.98 1159.35L579.38 1166.75L571.98 1174.15L564.58 1166.75ZM583.13 1155.85L590.53 1163.25L583.13 1170.65L575.74 1163.25Z" fill="none" stroke="#e00000" stroke-width="1.7"/>
<line x1="438.4" y1="950.4" x2="438.4" y2="1304.9" stroke="#000" stroke-width="3.2" stroke-dasharray="12.7 13.15" stroke-dashoffset="20"/>
<line x1="471.6" y1="950.4" x2="471.6" y2="1304.9" stroke="#000" stroke-width="3.2" stroke-dasharray="12.7 13.15" stroke-dashoffset="20"/>
<line x1="538.6" y1="950.4" x2="538.6" y2="1304.9" stroke="#000" stroke-width="3.2" stroke-dasharray="12.7 13.15" stroke-dashoffset="20"/>
<rect x="277.8" y="953.1" width="114.4" height="349" fill="#8c8c8c"/>
<line x1="276.35" y1="950.4" x2="276.35" y2="1304.9" stroke="#000" stroke-width="2.9"/>
<line x1="393.6" y1="950.4" x2="393.6" y2="1304.9" stroke="#000" stroke-width="2.9"/>
</g>
<rect x="86" y="950.4" width="498.7" height="354.5" fill="none" stroke="#000" stroke-width="1.9"/>
<path d="M95.35 1304.9V1300.7M95.35 950.4V954.6M126.52 1304.9V1300.7M126.52 950.4V954.6M157.69 1304.9V1296.9M157.69 950.4V958.4M188.86 1304.9V1300.7M188.86 950.4V954.6M220.03 1304.9V1300.7M220.03 950.4V954.6M251.19 1304.9V1296.9M251.19 950.4V958.4M282.36 1304.9V1300.7M282.36 950.4V954.6M313.53 1304.9V1300.7M313.53 950.4V954.6M344.7 1304.9V1296.9M344.7 950.4V958.4M375.87 1304.9V1300.7M375.87 950.4V954.6M407.04 1304.9V1300.7M407.04 950.4V954.6M438.21 1304.9V1296.9M438.21 950.4V958.4M469.38 1304.9V1300.7M469.38 950.4V954.6M500.54 1304.9V1300.7M500.54 950.4V954.6M531.71 1304.9V1296.9M531.71 950.4V958.4M562.88 1304.9V1300.7M562.88 950.4V954.6M86 1296.04H91M584.7 1296.04H579.7M86 1278.31H91M584.7 1278.31H579.7M86 1260.59H96M584.7 1260.59H574.7M86 1242.86H91M584.7 1242.86H579.7M86 1225.14H91M584.7 1225.14H579.7M86 1207.41H91M584.7 1207.41H579.7M86 1189.69H91M584.7 1189.69H579.7M86 1171.96H96M584.7 1171.96H574.7M86 1154.24H91M584.7 1154.24H579.7M86 1136.51H91M584.7 1136.51H579.7M86 1118.79H91M584.7 1118.79H579.7M86 1101.06H91M584.7 1101.06H579.7M86 1083.34H96M584.7 1083.34H574.7M86 1065.61H91M584.7 1065.61H579.7M86 1047.89H91M584.7 1047.89H579.7M86 1030.16H91M584.7 1030.16H579.7M86 1012.44H91M584.7 1012.44H579.7M86 994.71H96M584.7 994.71H574.7M86 976.99H91M584.7 976.99H579.7M86 959.26H91M584.7 959.26H579.7" fill="none" stroke="#000" stroke-width="1.8"/>
<g clip-path="url(#cpf)">
<path d="M700.6 1210.9 L711.77 1211.75 L722.95 1214.9 L734.12 1197.75 L745.3 1209.1 L756.47 1187.25 L767.65 1203 L778.83 1210.9 L790 1192.15 L801.17 1200.4 L812.35 1196.35 L823.52 1213.5 L834.7 1199.5 L845.88 1209.65 L857.05 1204.4 L868.22 1193.9 L879.4 1203.9 L890.58 1201.25" fill="none" stroke="#0000e0" stroke-width="2.2" stroke-dasharray="2.2 6.9"/>
<path d="M693.5 1210.9H707.7M700.6 1203.8V1218M704.67 1211.75H718.88M711.77 1204.65V1218.85M715.85 1214.9H730.05M722.95 1207.8V1222M727.02 1197.75H741.23M734.12 1190.65V1204.85M738.2 1209.1H752.4M745.3 1202V1216.2M749.37 1187.25H763.57M756.47 1180.15V1194.35M760.55 1203H774.75M767.65 1195.9V1210.1M771.73 1210.9H785.93M778.83 1203.8V1218M782.9 1192.15H797.1M790 1185.05V1199.25M794.07 1200.4H808.27M801.17 1193.3V1207.5M805.25 1196.35H819.45M812.35 1189.25V1203.45M816.42 1213.5H830.62M823.52 1206.4V1220.6M827.6 1199.5H841.8M834.7 1192.4V1206.6M838.77 1209.65H852.98M845.88 1202.55V1216.75M849.95 1204.4H864.15M857.05 1197.3V1211.5M861.12 1193.9H875.32M868.22 1186.8V1201M872.3 1203.9H886.5M879.4 1196.8V1211M883.48 1201.25H897.68M890.58 1194.15V1208.35" fill="none" stroke="#0000e0" stroke-width="2"/>
<path d="M700.6 1219.6 L711.77 1229.25 L722.95 1234.15 L734.12 1210.9 L745.3 1238.35 L756.47 1235.4 L767.65 1224.9 L778.83 1232.75 L790 1235.9 L801.17 1230.1 L812.35 1214.4 L823.52 1234.5 L834.7 1212.1 L845.88 1203.9 L857.05 1223.65 L868.22 1222.6 L879.4 1221.9 L890.58 1217" fill="none" stroke="#e00000" stroke-width="1.5"/>
<path d="M700.6 1212.2L708 1219.6L700.6 1227L693.2 1219.6ZM711.77 1221.85L719.17 1229.25L711.77 1236.65L704.38 1229.25ZM722.95 1226.75L730.35 1234.15L722.95 1241.55L715.55 1234.15ZM734.12 1203.5L741.52 1210.9L734.12 1218.3L726.73 1210.9ZM745.3 1230.95L752.7 1238.35L745.3 1245.75L737.9 1238.35ZM756.47 1228L763.87 1235.4L756.47 1242.8L749.07 1235.4ZM767.65 1217.5L775.05 1224.9L767.65 1232.3L760.25 1224.9ZM778.83 1225.35L786.23 1232.75L778.83 1240.15L771.43 1232.75ZM790 1228.5L797.4 1235.9L790 1243.3L782.6 1235.9ZM801.17 1222.7L808.57 1230.1L801.17 1237.5L793.77 1230.1ZM812.35 1207L819.75 1214.4L812.35 1221.8L804.95 1214.4ZM823.52 1227.1L830.92 1234.5L823.52 1241.9L816.12 1234.5ZM834.7 1204.7L842.1 1212.1L834.7 1219.5L827.3 1212.1ZM845.88 1196.5L853.27 1203.9L845.88 1211.3L838.48 1203.9ZM857.05 1216.25L864.45 1223.65L857.05 1231.05L849.65 1223.65ZM868.22 1215.2L875.62 1222.6L868.22 1230L860.82 1222.6ZM879.4 1214.5L886.8 1221.9L879.4 1229.3L872 1221.9ZM890.58 1209.6L897.98 1217L890.58 1224.4L883.18 1217Z" fill="none" stroke="#e00000" stroke-width="1.7"/>
<path d="M1007.9 1210 L1019.05 1194.1 L1030.21 1182.75 L1041.37 1195.9 L1052.52 1217.75 L1063.67 1214.25 L1074.83 1212.5 L1085.98 1201.1 L1097.14 1072.5 L1108.3 1203.75 L1119.45 1210.75 L1130.61 1195 L1141.76 1211.6 L1152.91 1192.4 L1164.07 1196.75 L1186.38 1190.6 L1197.53 1200.25" fill="none" stroke="#0000e0" stroke-width="2.2" stroke-dasharray="2.2 6.9"/>
<path d="M1000.8 1210H1015M1007.9 1202.9V1217.1M1011.95 1194.1H1026.15M1019.05 1187V1201.2M1023.11 1182.75H1037.31M1030.21 1175.65V1189.85M1034.27 1195.9H1048.46M1041.37 1188.8V1203M1045.42 1217.75H1059.62M1052.52 1210.65V1224.85M1056.58 1214.25H1070.77M1063.67 1207.15V1221.35M1067.73 1212.5H1081.93M1074.83 1205.4V1219.6M1078.88 1201.1H1093.08M1085.98 1194V1208.2M1090.04 1072.5H1104.24M1097.14 1065.4V1079.6M1101.2 1203.75H1115.39M1108.3 1196.65V1210.85M1112.35 1210.75H1126.55M1119.45 1203.65V1217.85M1123.51 1195H1137.7M1130.61 1187.9V1202.1M1134.66 1211.6H1148.86M1141.76 1204.5V1218.7M1145.82 1192.4H1160.01M1152.91 1185.3V1199.5M1156.97 1196.75H1171.17M1164.07 1189.65V1203.85M1179.28 1190.6H1193.48M1186.38 1183.5V1197.7M1190.43 1200.25H1204.63M1197.53 1193.15V1207.35" fill="none" stroke="#0000e0" stroke-width="2"/>
<path d="M1007.9 1187.1 L1019.05 1216.9 L1030.21 1215.1 L1041.37 1215.1 L1052.52 1227.4 L1063.67 1223 L1074.83 1037.5 L1085.98 1233.5 L1097.14 1232.6 L1108.3 1230 L1119.45 1230.9 L1130.61 1213.4 L1141.76 1217.75 L1152.91 1198.5 L1164.07 1175.4 L1186.38 1213.4 L1197.53 1220.4" fill="none" stroke="#e00000" stroke-width="1.5"/>
<path d="M1007.9 1179.7L1015.3 1187.1L1007.9 1194.5L1000.5 1187.1ZM1019.05 1209.5L1026.45 1216.9L1019.05 1224.3L1011.65 1216.9ZM1030.21 1207.7L1037.61 1215.1L1030.21 1222.5L1022.81 1215.1ZM1041.37 1207.7L1048.77 1215.1L1041.37 1222.5L1033.96 1215.1ZM1052.52 1220L1059.92 1227.4L1052.52 1234.8L1045.12 1227.4ZM1063.67 1215.6L1071.08 1223L1063.67 1230.4L1056.27 1223ZM1074.83 1030.1L1082.23 1037.5L1074.83 1044.9L1067.43 1037.5ZM1085.98 1226.1L1093.38 1233.5L1085.98 1240.9L1078.58 1233.5ZM1097.14 1225.2L1104.54 1232.6L1097.14 1240L1089.74 1232.6ZM1108.3 1222.6L1115.7 1230L1108.3 1237.4L1100.89 1230ZM1119.45 1223.5L1126.85 1230.9L1119.45 1238.3L1112.05 1230.9ZM1130.61 1206L1138.01 1213.4L1130.61 1220.8L1123.2 1213.4ZM1141.76 1210.35L1149.16 1217.75L1141.76 1225.15L1134.36 1217.75ZM1152.91 1191.1L1160.32 1198.5L1152.91 1205.9L1145.51 1198.5ZM1164.07 1168L1171.47 1175.4L1164.07 1182.8L1156.67 1175.4ZM1186.38 1206L1193.78 1213.4L1186.38 1220.8L1178.98 1213.4ZM1197.53 1213L1204.93 1220.4L1197.53 1227.8L1190.13 1220.4Z" fill="none" stroke="#e00000" stroke-width="1.7"/>
<line x1="700.4" y1="1202.8" x2="890.75" y2="1202.8" stroke="#000" stroke-width="3" stroke-dasharray="12 7 3 6.8"/>
<line x1="1008" y1="1202.8" x2="1199.1" y2="1202.8" stroke="#000" stroke-width="3" stroke-dasharray="12 7 3 6.8"/>
<line x1="700.4" y1="1223.8" x2="890.75" y2="1223.8" stroke="#000" stroke-width="3" stroke-dasharray="12 7 3 6.8"/>
<line x1="1008" y1="1223.8" x2="1199.1" y2="1223.8" stroke="#000" stroke-width="3" stroke-dasharray="12 7 3 6.8"/>
<line x1="1052.8" y1="950.4" x2="1052.8" y2="1304.9" stroke="#000" stroke-width="3.2" stroke-dasharray="12.7 13.15" stroke-dashoffset="20"/>
<line x1="1086" y1="950.4" x2="1086" y2="1304.9" stroke="#000" stroke-width="3.2" stroke-dasharray="12.7 13.15" stroke-dashoffset="20"/>
<line x1="1153" y1="950.4" x2="1153" y2="1304.9" stroke="#000" stroke-width="3.2" stroke-dasharray="12.7 13.15" stroke-dashoffset="20"/>
<rect x="892.2" y="953.1" width="114.4" height="349" fill="#8c8c8c"/>
<line x1="890.75" y1="950.4" x2="890.75" y2="1304.9" stroke="#000" stroke-width="2.9"/>
<line x1="1008" y1="950.4" x2="1008" y2="1304.9" stroke="#000" stroke-width="2.9"/>
</g>
<rect x="700.4" y="950.4" width="498.7" height="354.5" fill="none" stroke="#000" stroke-width="1.9"/>
<path d="M709.75 1304.9V1300.7M709.75 950.4V954.6M740.92 1304.9V1300.7M740.92 950.4V954.6M772.09 1304.9V1296.9M772.09 950.4V958.4M803.26 1304.9V1300.7M803.26 950.4V954.6M834.43 1304.9V1300.7M834.43 950.4V954.6M865.59 1304.9V1296.9M865.59 950.4V958.4M896.76 1304.9V1300.7M896.76 950.4V954.6M927.93 1304.9V1300.7M927.93 950.4V954.6M959.1 1304.9V1296.9M959.1 950.4V958.4M990.27 1304.9V1300.7M990.27 950.4V954.6M1021.44 1304.9V1300.7M1021.44 950.4V954.6M1052.61 1304.9V1296.9M1052.61 950.4V958.4M1083.78 1304.9V1300.7M1083.78 950.4V954.6M1114.94 1304.9V1300.7M1114.94 950.4V954.6M1146.11 1304.9V1296.9M1146.11 950.4V958.4M1177.28 1304.9V1300.7M1177.28 950.4V954.6M700.4 1304.9H710.4M1199.1 1304.9H1189.1M700.4 1281.27H705.4M1199.1 1281.27H1194.1M700.4 1257.63H705.4M1199.1 1257.63H1194.1M700.4 1234H705.4M1199.1 1234H1194.1M700.4 1210.37H705.4M1199.1 1210.37H1194.1M700.4 1186.73H710.4M1199.1 1186.73H1189.1M700.4 1163.1H705.4M1199.1 1163.1H1194.1M700.4 1139.47H705.4M1199.1 1139.47H1194.1M700.4 1115.83H705.4M1199.1 1115.83H1194.1M700.4 1092.2H705.4M1199.1 1092.2H1194.1M700.4 1068.57H710.4M1199.1 1068.57H1189.1M700.4 1044.93H705.4M1199.1 1044.93H1194.1M700.4 1021.3H705.4M1199.1 1021.3H1194.1M700.4 997.67H705.4M1199.1 997.67H1194.1M700.4 974.03H705.4M1199.1 974.03H1194.1M700.4 950.4H710.4M1199.1 950.4H1189.1" fill="none" stroke="#000" stroke-width="1.8"/>
<text class="e" transform="translate(238.07 27.4) scale(0.9667 1)" font-size="28.5">Fe</text>
<text class="e" transform="translate(286.08 27.4) scale(0.9231 1)" font-size="28.5">XIII</text>
<text class="e" transform="translate(339.91 27.4) scale(1.0857 1)" font-size="28.5">202.04Å</text>
<text class="e" transform="translate(238.07 482) scale(0.9667 1)" font-size="28.5">Fe</text>
<text class="e" transform="translate(286.09 482) scale(0.9062 1)" font-size="28.5">XII</text>
<text class="e" transform="translate(333.85 482) scale(1.0769 1)" font-size="28.5">195.12Å</text>
<text class="e" transform="translate(852.47 27.4) scale(0.9667 1)" font-size="28.5">Fe</text>
<text class="e" transform="translate(900.48 27.4) scale(0.9231 1)" font-size="28.5">XIII</text>
<text class="e" transform="translate(954.31 27.4) scale(1.0857 1)" font-size="28.5">202.04Å</text>
<text class="e" transform="translate(852.47 482) scale(0.9667 1)" font-size="28.5">Fe</text>
<text class="e" transform="translate(900.49 482) scale(0.9062 1)" font-size="28.5">XII</text>
<text class="e" transform="translate(948.25 482) scale(1.0769 1)" font-size="28.5">195.12Å</text>
<text class="e" transform="translate(238.07 936.2) scale(0.9667 1)" font-size="28.5">Fe</text>
<text class="e" transform="translate(286.09 936.2) scale(0.9062 1)" font-size="28.5">XII</text>
<text class="e" transform="translate(333.85 936.2) scale(1.0769 1)" font-size="28.5">195.12Å</text>
<text class="e" transform="translate(783.52 936.5) scale(0.9783 1)" font-size="28.5">Si</text>
<text class="e" transform="translate(824.12 936.5) scale(0.8824 1)" font-size="28.5">X</text>
<text class="e" transform="translate(856.3 936.5) scale(1.1517 1)" font-size="28.5">(258.37Å/261.04Å)</text>
<text class="e" transform="translate(105.22 76.7) scale(1.1387 1)" font-size="28.5">(a)</text>
<text class="e" transform="translate(719.44 76.7) scale(1.1532 1)" font-size="28.5">(b)</text>
<text class="e" transform="translate(105.17 531.3) scale(1.1667 1)" font-size="28.5">(c)</text>
<text class="e" transform="translate(719.6 531.3) scale(1.1484 1)" font-size="28.5">(d)</text>
<text class="e" transform="translate(105.24 984.6) scale(1.1290 1)" font-size="28.5">(e)</text>
<text class="e" transform="translate(718.74 984.5) scale(1.2783 1)" font-size="28.5">(f)</text>
<text class="e" transform="translate(179.97 169.9) scale(1.0167 1)" font-size="27.5">B</text>
<text class="e" transform="translate(180.6 286.9) scale(0.8500 1)" font-size="27.5">A</text>
<text class="e" transform="translate(790.01 217.6) scale(0.9933 1)" font-size="27.5">B</text>
<text class="e" transform="translate(790.1 372) scale(0.8556 1)" font-size="27.5">A</text>
<text class="e" transform="translate(179.97 602.1) scale(1.0167 1)" font-size="27.5">B</text>
<text class="e" transform="translate(180.6 748.1) scale(0.8500 1)" font-size="27.5">A</text>
<text class="e" transform="translate(789.45 737.1) scale(1.0267 1)" font-size="27.5">B</text>
<text class="e" transform="translate(790.1 836.15) scale(0.8556 1)" font-size="27.5">A</text>
<text class="e" transform="translate(180.6 1046.4) scale(0.8500 1)" font-size="27.5">A</text>
<text class="e" transform="translate(180.75 1173) scale(0.9733 1)" font-size="27.5">B</text>
<text class="e" transform="translate(790.1 1179.4) scale(0.8556 1)" font-size="27.5">A</text>
<text class="e" transform="translate(789.45 1269.5) scale(1.0267 1)" font-size="27.5">B</text>
<text transform="translate(399 121) scale(1.0179 1)" font-size="17.5">vp1</text>
<text transform="translate(479.5 163) scale(1.0893 1)" font-size="17.5">vp2</text>
<text transform="translate(547.75 108.4) scale(1.1250 1)" font-size="17.5">vp3</text>
<text transform="translate(1011.35 80.6) scale(1.0339 1)" font-size="17.5">wp1</text>
<text transform="translate(1106.4 87.6) scale(1.1129 1)" font-size="17.5">wp2</text>
<text transform="translate(399.9 563.6) scale(1.0000 1)" font-size="17.5">vp1</text>
<text transform="translate(476.9 603.9) scale(1.1250 1)" font-size="17.5">vp2</text>
<text transform="translate(546.9 567.1) scale(1.1250 1)" font-size="17.5">vp3</text>
<text transform="translate(1011.35 523.6) scale(1.0339 1)" font-size="17.5">wp1</text>
<text transform="translate(1106.4 540.25) scale(1.1129 1)" font-size="17.5">wp2</text>
<text transform="translate(1091.31 1038.9) scale(1.0929 1)" font-size="17.5">dp1</text>
<text transform="translate(1107.86 1076.9) scale(1.1375 1)" font-size="17.5">dp2</text>
<text transform="translate(493.71 1091.8) scale(1.1900 1)" font-size="21">ip</text>
<text class="e" transform="translate(106.96 1368.3) scale(1.0392 1)" font-size="24.5">Start</text>
<text class="e" transform="translate(176 1368.3) scale(1.0000 1)" font-size="24.5">Time</text>
<text class="e" transform="translate(242.89 1368.3) scale(1.1053 1)" font-size="24.5">(04−Aug−11</text>
<text class="e" transform="translate(406.11 1368.3) scale(1.0936 1)" font-size="24.5">02:07:00</text>
<text class="e" transform="translate(523.42 1368.3) scale(0.9395 1)" font-size="24.5">UT)</text>
<text class="e" transform="translate(721.36 1368.3) scale(1.0392 1)" font-size="24.5">Start</text>
<text class="e" transform="translate(790.4 1368.3) scale(1.0000 1)" font-size="24.5">Time</text>
<text class="e" transform="translate(857.29 1368.3) scale(1.1053 1)" font-size="24.5">(04−Aug−11</text>
<text class="e" transform="translate(1020.51 1368.3) scale(1.0936 1)" font-size="24.5">02:07:00</text>
<text class="e" transform="translate(1137.82 1368.3) scale(0.9395 1)" font-size="24.5">UT)</text>
<text class="e" transform="translate(23.4 367.39) rotate(-90) scale(1.0440 1)" font-size="24.5">Doppler</text>
<text class="e" transform="translate(23.4 266.9) rotate(-90) scale(1.0622 1)" font-size="24.5">velocity</text>
<text class="e" transform="translate(23.4 167.56) rotate(-90) scale(1.0641 1)" font-size="24.5">(km</text>
<text class="e" transform="translate(23.4 110.41) rotate(-90) scale(1.1062 1)" font-size="24.5">s<tspan style="stroke:none" font-size="11.76" dy="-8.82">−1</tspan><tspan dy="8.82">)</tspan></text>
<text class="e" transform="translate(23.4 821.99) rotate(-90) scale(1.0440 1)" font-size="24.5">Doppler</text>
<text class="e" transform="translate(23.4 721.5) rotate(-90) scale(1.0622 1)" font-size="24.5">velocity</text>
<text class="e" transform="translate(23.4 622.16) rotate(-90) scale(1.0641 1)" font-size="24.5">(km</text>
<text class="e" transform="translate(23.4 565.01) rotate(-90) scale(1.1062 1)" font-size="24.5">s<tspan style="stroke:none" font-size="11.76" dy="-8.82">−1</tspan><tspan dy="8.82">)</tspan></text>
<text class="e" transform="translate(641.7 313.49) rotate(-90) scale(0.9930 1)" font-size="24.5">Line</text>
<text class="e" transform="translate(641.7 253.5) rotate(-90) scale(1.0214 1)" font-size="24.5">width</text>
<text class="e" transform="translate(641.7 181.23) rotate(-90) scale(1.0314 1)" font-size="24.5">(mÅ)</text>
<text class="e" transform="translate(641.7 768.09) rotate(-90) scale(0.9930 1)" font-size="24.5">Line</text>
<text class="e" transform="translate(641.7 708.1) rotate(-90) scale(1.0214 1)" font-size="24.5">width</text>
<text class="e" transform="translate(641.7 635.83) rotate(-90) scale(1.0314 1)" font-size="24.5">(mÅ)</text>
<text class="e" transform="translate(20.8 1296.94) rotate(-90) scale(1.2690 1)" font-size="24.5">log</text>
<text class="e" transform="translate(20.8 1250.16) rotate(-90) scale(1.0787 1)" font-size="24.5">Intensity</text>
<text class="e" transform="translate(20.8 1139.66) rotate(-90) scale(1.1561 1)" font-size="24.5">(erg</text>
<text class="e" transform="translate(20.8 1078.52) rotate(-90) scale(1.1207 1)" font-size="24.5">cm<tspan style="stroke:none" font-size="11.76" dy="-8.82">−2</tspan><tspan dy="8.82">s</tspan><tspan style="stroke:none" font-size="11.76" dy="-8.82">−1</tspan><tspan dy="8.82">sr</tspan><tspan style="stroke:none" font-size="11.76" dy="-8.82">−1</tspan><tspan dy="8.82">)</tspan></text>
<text class="e" transform="translate(641.8 1231.59) rotate(-90) scale(1.2966 1)" font-size="24.5">log</text>
<text class="e" transform="translate(641.8 1184.18) rotate(-90) scale(0.9925 1)" font-size="24.5">Density</text>
<text class="e" transform="translate(641.8 1087.2) rotate(-90) scale(1.1017 1)" font-size="24.5">(cm<tspan style="stroke:none" font-size="11.76" dy="-8.82">−3</tspan><tspan dy="8.82">)</tspan></text>
<text class="e" transform="translate(62.04 380.38) scale(1.12 1)" font-size="23.6">4</text>
<text class="e" transform="translate(63.16 329.74) scale(1.12 1)" font-size="23.6">2</text>
<text class="e" transform="translate(63.16 279.09) scale(1.12 1)" font-size="23.6">0</text>
<text class="e" transform="translate(63.16 228.45) scale(1.12 1)" font-size="23.6">2</text>
<text class="e" transform="translate(62.04 177.81) scale(1.12 1)" font-size="23.6">4</text>
<text class="e" transform="translate(63.16 127.16) scale(1.12 1)" font-size="23.6">6</text>
<text class="e" transform="translate(63.16 76.52) scale(1.12 1)" font-size="23.6">8</text>
<text class="e" transform="translate(663 322.29) scale(1.12 1)" font-size="23.6">25</text>
<text class="e" transform="translate(663 218.02) scale(1.12 1)" font-size="23.6">30</text>
<text class="e" transform="translate(663 113.76) scale(1.12 1)" font-size="23.6">35</text>
<text class="e" transform="translate(63.16 851.5) scale(1.12 1)" font-size="23.6">6</text>
<text class="e" transform="translate(62.04 805.76) scale(1.12 1)" font-size="23.6">4</text>
<text class="e" transform="translate(63.16 751.22) scale(1.12 1)" font-size="23.6">2</text>
<text class="e" transform="translate(63.16 696.68) scale(1.12 1)" font-size="23.6">0</text>
<text class="e" transform="translate(63.16 642.15) scale(1.12 1)" font-size="23.6">2</text>
<text class="e" transform="translate(62.04 587.61) scale(1.12 1)" font-size="23.6">4</text>
<text class="e" transform="translate(63.16 533.07) scale(1.12 1)" font-size="23.6">6</text>
<text class="e" transform="translate(663 851.5) scale(1.12 1)" font-size="23.6">32</text>
<text class="e" transform="translate(661.88 805.76) scale(1.12 1)" font-size="23.6">34</text>
<text class="e" transform="translate(663 751.22) scale(1.12 1)" font-size="23.6">36</text>
<text class="e" transform="translate(663 696.68) scale(1.12 1)" font-size="23.6">38</text>
<text class="e" transform="translate(663 642.15) scale(1.12 1)" font-size="23.6">40</text>
<text class="e" transform="translate(663 587.61) scale(1.12 1)" font-size="23.6">42</text>
<text class="e" transform="translate(661.88 533.07) scale(1.12 1)" font-size="23.6">44</text>
<text class="e" transform="translate(41.76 1270.39) scale(1.0887096774193548 1)" font-size="23.6">3.1</text>
<text class="e" transform="translate(41.76 1181.76) scale(1.0887096774193548 1)" font-size="23.6">3.2</text>
<text class="e" transform="translate(41.76 1093.14) scale(1.0887096774193548 1)" font-size="23.6">3.3</text>
<text class="e" transform="translate(41.76 1004.51) scale(1.0887096774193548 1)" font-size="23.6">3.4</text>
<text class="e" transform="translate(677.56 1305.9) scale(1.12 1)" font-size="23.6">8</text>
<text class="e" transform="translate(677.56 1196.53) scale(1.12 1)" font-size="23.6">9</text>
<text class="e" transform="translate(663 1078.37) scale(1.12 1)" font-size="23.6">10</text>
<text class="e" transform="translate(665.24 966.6) scale(1.12 1)" font-size="23.6">11</text>
<path d="M46 372.78H60.2M46 322.14H60.2M46 843.9H60.2M46 798.16H60.2M46 743.62H60.2" stroke="#000" stroke-width="1.7" fill="none"/>
<text class="e" transform="translate(123.29 430.8) scale(1.1526 1)" font-size="23.6">02:30</text>
<text class="e" transform="translate(216.79 430.8) scale(1.1526 1)" font-size="23.6">03:00</text>
<text class="e" transform="translate(310.3 430.8) scale(1.1526 1)" font-size="23.6">03:30</text>
<text class="e" transform="translate(403.8 430.8) scale(1.1526 1)" font-size="23.6">04:00</text>
<text class="e" transform="translate(497.31 430.8) scale(1.1526 1)" font-size="23.6">04:30</text>
<text class="e" transform="translate(737.69 430.8) scale(1.1526 1)" font-size="23.6">02:30</text>
<text class="e" transform="translate(831.19 430.8) scale(1.1526 1)" font-size="23.6">03:00</text>
<text class="e" transform="translate(924.7 430.8) scale(1.1526 1)" font-size="23.6">03:30</text>
<text class="e" transform="translate(1018.2 430.8) scale(1.1526 1)" font-size="23.6">04:00</text>
<text class="e" transform="translate(1111.71 430.8) scale(1.1526 1)" font-size="23.6">04:30</text>
<text class="e" transform="translate(123.29 885.4) scale(1.1526 1)" font-size="23.6">02:30</text>
<text class="e" transform="translate(216.79 885.4) scale(1.1526 1)" font-size="23.6">03:00</text>
<text class="e" transform="translate(310.3 885.4) scale(1.1526 1)" font-size="23.6">03:30</text>
<text class="e" transform="translate(403.8 885.4) scale(1.1526 1)" font-size="23.6">04:00</text>
<text class="e" transform="translate(497.31 885.4) scale(1.1526 1)" font-size="23.6">04:30</text>
<text class="e" transform="translate(737.69 885.4) scale(1.1526 1)" font-size="23.6">02:30</text>
<text class="e" transform="translate(831.19 885.4) scale(1.1526 1)" font-size="23.6">03:00</text>
<text class="e" transform="translate(924.7 885.4) scale(1.1526 1)" font-size="23.6">03:30</text>
<text class="e" transform="translate(1018.2 885.4) scale(1.1526 1)" font-size="23.6">04:00</text>
<text class="e" transform="translate(1111.71 885.4) scale(1.1526 1)" font-size="23.6">04:30</text>
<text class="e" transform="translate(123.29 1339.8) scale(1.1526 1)" font-size="23.6">02:30</text>
<text class="e" transform="translate(216.79 1339.8) scale(1.1526 1)" font-size="23.6">03:00</text>
<text class="e" transform="translate(310.3 1339.8) scale(1.1526 1)" font-size="23.6">03:30</text>
<text class="e" transform="translate(403.8 1339.8) scale(1.1526 1)" font-size="23.6">04:00</text>
<text class="e" transform="translate(497.31 1339.8) scale(1.1526 1)" font-size="23.6">04:30</text>
<text class="e" transform="translate(737.69 1339.8) scale(1.1526 1)" font-size="23.6">02:30</text>
<text class="e" transform="translate(831.19 1339.8) scale(1.1526 1)" font-size="23.6">03:00</text>
<text class="e" transform="translate(924.7 1339.8) scale(1.1526 1)" font-size="23.6">03:30</text>
<text class="e" transform="translate(1018.2 1339.8) scale(1.1526 1)" font-size="23.6">04:00</text>
<text class="e" transform="translate(1111.71 1339.8) scale(1.1526 1)" font-size="23.6">04:30</text>
<path d="M81.8 244.3H95.8M88.8 237.3V251.3M81.8 659.3H95.8M88.8 652.3V666.3" fill="none" stroke="#000" stroke-width="1.9"/>
</svg></body></html>
